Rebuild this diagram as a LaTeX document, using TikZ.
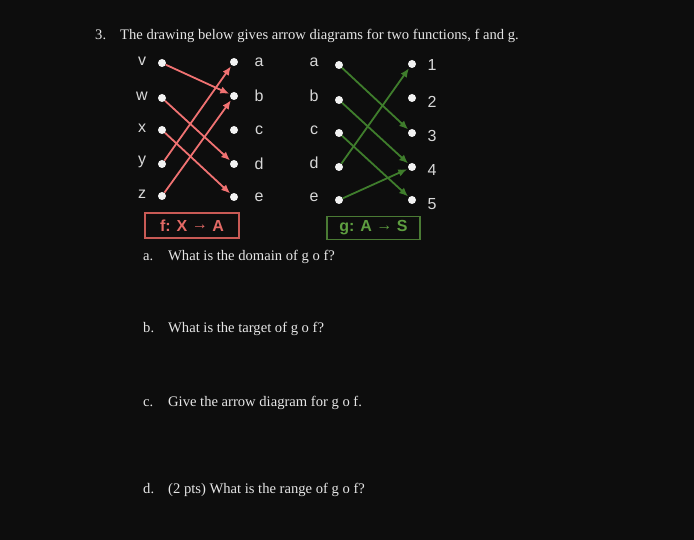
\documentclass[tikz,border=0pt]{standalone}
\usepackage{fontspec}
\setmainfont{Liberation Serif}
\setsansfont{Liberation Sans}
\newcommand{\boxarr}{\raisebox{1.5pt}{→}}
\begin{document}
\begin{tikzpicture}[x=1pt,y=-1pt,
  dot/.style={circle,fill=dotc,inner sep=0pt,minimum size=8pt},
  lbl/.style={text=lblc,font=\sffamily\fontsize{16}{18}\selectfont,inner sep=0pt},
  qtext/.style={text=txtc,font=\fontsize{14.6}{17}\selectfont,inner sep=0pt,anchor=base west},
  farr/.style={draw=redc,line width=1.8pt,-{Latex[length=9pt,width=7.5pt]},shorten >=1pt},
  garr/.style={draw=greenc,line width=1.8pt,-{Latex[length=9pt,width=7.5pt]},shorten >=1pt},
  fbox/.style={draw=redb,line width=1.2pt,text=redt,font=\sffamily\bfseries\fontsize{16}{18}\selectfont,minimum width=94pt,minimum height=25pt,inner sep=0pt},
  gbox/.style={draw=greenb,line width=1.2pt,text=greent,font=\sffamily\bfseries\fontsize{16}{18}\selectfont,minimum width=93pt,minimum height=23pt,inner sep=0pt}]
\usetikzlibrary{arrows.meta}
\definecolor{bgc}{HTML}{0D0D0D}
\definecolor{dotc}{HTML}{F2F2F2}
\definecolor{lblc}{HTML}{D8D8D8}
\definecolor{txtc}{HTML}{E6E6E6}
\definecolor{redc}{HTML}{F07272}
\definecolor{redb}{HTML}{C85A55}
\definecolor{redt}{HTML}{E46A66}
\definecolor{greenc}{HTML}{3F7D2C}
\definecolor{greenb}{HTML}{4A7A34}
\definecolor{greent}{HTML}{5E9E40}
\fill[bgc] (0,0) rectangle (694,540);
\useasboundingbox (0,0) rectangle (694,540);
% f diagram
\foreach \n/\y in {v/63,w/98,x/130,y/164,z/196}{
  \node[dot] (f\n) at (162,\y) {};
  \node[lbl] (lf\n) at (142,\y-2) {\n};
}
\foreach \n/\y in {a/62,b/96,c/130,d/164,e/197}{
  \node[dot] (fa\n) at (234,\y) {};
  \node[lbl] (lfa\n) at (259,\y) {\n};
}
\draw[farr] (fv) -- (fab);
\draw[farr] (fw) -- (fad);
\draw[farr] (fx) -- (fae);
\draw[farr] (fy) -- (faa);
\draw[farr] (fz) -- (fab);
\node[fbox] (fb) at (192,225.5) {f: X \boxarr\ A};
% g diagram
\foreach \n/\y/\ly in {a/65/62,b/100/96,c/133/130,d/167/163,e/200/197}{
  \node[dot] (g\n) at (339,\y) {};
  \node[lbl] (lg\n) at (314,\ly) {\n};
}
\foreach \n/\y/\ly in {1/64/65,2/98/102,3/133/136,4/167/170,5/200/204}{
  \node[dot] (s\n) at (412,\y) {};
  \node[lbl] (ls\n) at (432,\ly) {\n};
}
\draw[garr] (ga) -- (s3);
\draw[garr] (gb) -- (s4);
\draw[garr] (gc) -- (s5);
\draw[garr] (gd) -- (s1);
\draw[garr] (ge) -- (s4);
\node[gbox] (gbx) at (373.5,228) {g: A \boxarr\ S};
% text
\node[qtext] (n3) at (95,40) {3.};
\node[qtext] (t3) at (120,40) {The drawing below gives arrow diagrams for two functions, f and g.};
\node[qtext] (na) at (143,261) {a.};
\node[qtext] (ta) at (168,261) {What is the domain of g o f?};
\node[qtext] (nb) at (143,333) {b.};
\node[qtext] (tb) at (168,333) {What is the target of g o f?};
\node[qtext] (nc) at (143,406) {c.};
\node[qtext] (tc) at (168,406) {Give the arrow diagram for g o f.};
\node[qtext] (nd) at (143,493) {d.};
\node[qtext] (td) at (168,493) {(2 pts) What is the range of g o f?};
\end{tikzpicture}
\end{document}
